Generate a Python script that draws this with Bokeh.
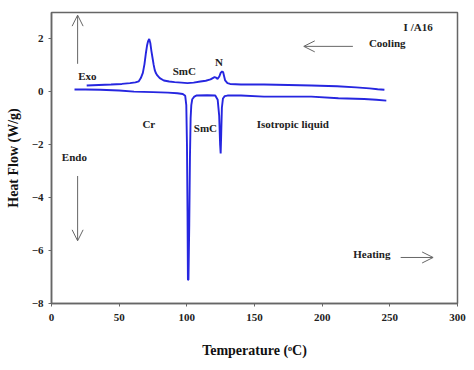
from bokeh.plotting import figure
from bokeh.models import Arrow, OpenHead, Label, FixedTicker
from bokeh.embed import file_html
from bokeh.resources import INLINE

# Cooling scan (upper trace)
cool_t = [26, 35, 44, 52, 58, 62, 64.5, 66, 67.5, 68.7, 69.7, 70.6, 71.4, 72.2, 73.0,
          73.8, 74.6, 75.5, 76.3, 77.2, 78.2, 80, 83, 87, 91, 96, 100.5, 105, 110, 114,
          117.5, 119.5, 120.5, 121.5, 122.7, 124, 125, 126, 126.8, 127.5, 128.3, 130,
          132, 140, 157, 175, 192, 211, 225, 235, 241, 246]
cool_hf = [0.24, 0.26, 0.28, 0.30, 0.33, 0.36, 0.40, 0.52, 0.72, 1.05, 1.45, 1.75, 1.92,
           2.00, 1.85, 1.55, 1.30, 1.02, 0.82, 0.70, 0.62, 0.52, 0.43, 0.39, 0.37, 0.35,
           0.33, 0.35, 0.39, 0.42, 0.47, 0.53, 0.56, 0.54, 0.49, 0.58, 0.72, 0.77, 0.75,
           0.60, 0.43, 0.33, 0.30, 0.28, 0.28, 0.26, 0.24, 0.21, 0.17, 0.13, 0.10, 0.08]

# Heating scan (lower trace)
heat_t = [17, 25, 36, 50, 61, 75, 86, 93, 97, 98.8, 99.6, 100.1, 100.5, 100.8, 101.2,
          101.8, 102.3, 102.8, 103.3, 104, 105.5, 107, 115, 121, 122.8, 123.9, 124.6,
          125.0, 125.4, 125.9, 126.7, 128, 130, 140, 157, 175, 192, 212, 231, 240, 247.4]
heat_hf = [0.09, 0.09, 0.08, 0.05, 0.01, -0.01, -0.03, -0.05, -0.08, -0.15, -0.5, -2.0,
           -4.5, -7.1, -7.1, -5.0, -2.5, -1.0, -0.5, -0.28, -0.18, -0.14, -0.13, -0.14,
           -0.3, -0.9, -2.0, -2.33, -1.6, -0.6, -0.25, -0.16, -0.14, -0.14, -0.18, -0.18,
           -0.18, -0.24, -0.27, -0.30, -0.33]

x_ticks = [0, 50, 100, 150, 200, 250, 300]
y_ticks = [-8, -6, -4, -2, 0, 2]

FONT = "Liberation Serif"
LINE = "#2626e0"
GREY = "#666666"

p = figure(width=474, height=370, output_backend="svg", toolbar_location=None,
           x_range=(0, 300), y_range=(-8, 3),
           min_border_left=51, min_border_top=12, min_border_right=17, min_border_bottom=67)
p.background_fill_color = "white"
p.border_fill_color = "white"
p.outline_line_color = GREY
p.outline_line_width = 1.5
p.xgrid.visible = False
p.ygrid.visible = False

p.line(cool_t, cool_hf, line_color=LINE, line_width=1.9)
p.line(heat_t, heat_hf, line_color=LINE, line_width=1.9)

for ax in (p.xaxis[0], p.yaxis[0]):
    ax.axis_line_color = GREY
    ax.axis_line_width = 1.5
    ax.major_tick_line_color = GREY
    ax.major_tick_in = 0
    ax.major_tick_out = 3
    ax.minor_tick_line_color = None
    ax.major_label_text_font = FONT
    ax.major_label_text_font_style = "bold"
    ax.major_label_text_font_size = "11px"
    ax.major_label_text_color = "#222222"
    ax.axis_label_text_font = FONT
    ax.axis_label_text_font_style = "bold"
    ax.axis_label_text_font_size = "14px"
    ax.axis_label_text_color = "#111111"

p.xaxis[0].major_label_standoff = 7
p.yaxis[0].major_label_standoff = 5
p.xaxis[0].ticker = FixedTicker(ticks=x_ticks)
p.yaxis[0].ticker = FixedTicker(ticks=y_ticks)
p.xaxis[0].axis_label = "Temperature (\u1d52C)"
p.yaxis[0].axis_label = "Heat Flow (W/g)"
p.xaxis[0].axis_label_standoff = 19
p.yaxis[0].axis_label_standoff = 8

labels = [
    ("I /A16", 270.9, 2.46),
    ("Cooling", 248.1, 1.85),
    ("Exo", 26.5, 0.59),
    ("SmC", 98.1, 0.77),
    ("N", 123.7, 1.13),
    ("Cr", 71.9, -1.22),
    ("SmC", 113.7, -1.38),
    ("Endo", 16.9, -2.46),
    ("Isotropic liquid", 178.3, -1.22),
    ("Heating", 236.7, -6.14),
]
for txt, lx, ly in labels:
    p.add_layout(Label(x=lx, y=ly, text=txt, text_font=FONT, text_font_style="bold",
                       text_font_size="11px", text_align="center",
                       text_baseline="middle", text_color="#222222"))

arrows = [
    (19.3, 1.06, 19.3, 2.9),
    (19.3, -3.18, 19.3, -5.63),
    (222.7, 1.72, 186.4, 1.72),
    (258.0, -6.26, 282.0, -6.26),
]
for x0, y0, x1, y1 in arrows:
    p.add_layout(Arrow(end=OpenHead(size=11, line_color=GREY, line_width=1),
                       x_start=x0, y_start=y0, x_end=x1, y_end=y1,
                       line_color=GREY, line_width=1))

open("out.html", "w").write(file_html(p, INLINE))
